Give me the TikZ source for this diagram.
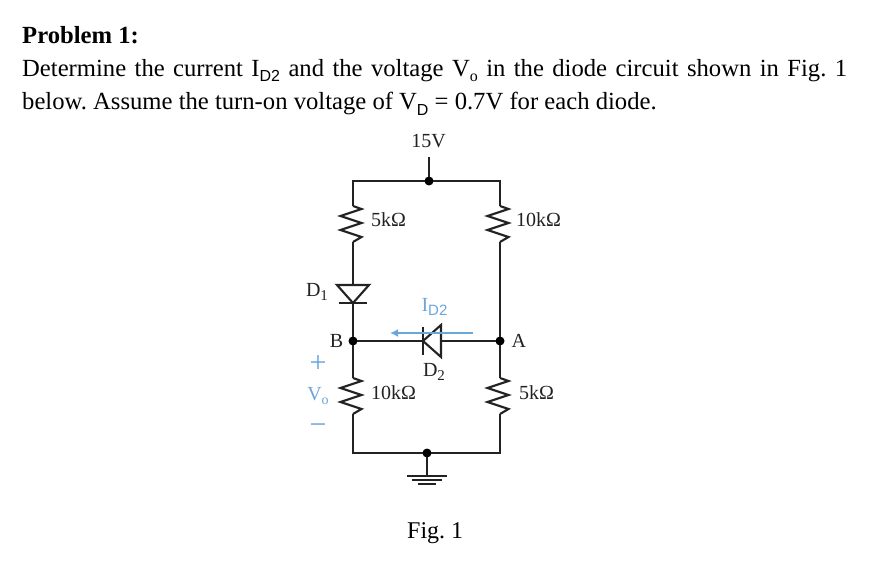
\documentclass[tikz,border=0pt]{standalone}
\usepackage{fontspec}
\setmainfont{Liberation Serif}
\newfontfamily\subfont{Liberation Sans}
\usepackage{xcolor}
\usepackage{tikz}
\usetikzlibrary{positioning, arrows.meta}
\definecolor{noteblue}{HTML}{6AA5DC}
\definecolor{inkgray}{HTML}{222222}
\newcommand{\lowsf}[2]{\raisebox{-0.22em}{\fontsize{#1}{#1}\subfont #2}}
\newcommand{\lowrm}[2]{\raisebox{-0.22em}{\fontsize{#1}{#1}\selectfont #2}}

\begin{document}
\frenchspacing
\begin{tikzpicture}[x=1pt, y=-1pt, every node/.style={inner sep=0pt}]
    % styles
    \tikzstyle{wire} = [line width=2.1pt, draw=inkgray]
    \tikzstyle{dot} = [circle, fill=black, minimum size=9pt, outer sep=-0.5pt]
    \tikzstyle{lbl} = [font=\fontsize{20}{24}\selectfont, text=inkgray]
    \tikzstyle{note} = [font=\fontsize{20}{24}\selectfont, text=noteblue]
    \tikzstyle{body} = [font=\fontsize{24.65}{30}\selectfont, anchor=base west]
    \tikzset{
        resistor/.pic={
            \coordinate (-a) at (0,0);
            \coordinate (-b) at (0,36);
            \draw [wire] (-a) -- (8.5,3) -- (-12.5,10) -- (8.5,17) -- (-12.5,24) -- (8.5,31) -- (-b);
        },
        diode/.pic={
            \coordinate (-a) at (0,0);
            \coordinate (-b) at (0,18);
            \draw [wire] (-16,0) -- (16,0) -- (-b) -- cycle;
            \draw [wire] (-14,18) -- (14,18);
        }
    }
    \useasboundingbox (0,0) rectangle (869,561);

    % text
    \node (title) [body] at (22,43.5) {\textbf{Problem 1:}};
    \node (lineone) [body] at (22,76.5) {\makebox[825pt][s]{Determine the current I\lowsf{16}{D2} and the voltage V\lowrm{16}{o} in the diode circuit shown in Fig. 1}};
    \node (linetwo) [body] at (22,110) {below. Assume the turn-on voltage of V\lowsf{16}{D} = 0.7V for each diode.};
    \node (figname) [body, font=\fontsize{24}{28}\selectfont] at (407,538) {Fig. 1};

    % junctions
    \node (jtop) [dot] at (429,181) {};
    \node (jb) [dot] at (353,341) {};
    \node (ja) [dot] at (500,341) {};
    \node (jgnd) [dot] at (427,453) {};
    \coordinate (vin) at (429,157);
    \coordinate (gnd) at (427,476);

    % parts
    \pic (rone) at (353,206) {resistor};
    \pic (rtwo) at (500,206) {resistor};
    \pic (rthree) at (353,378) {resistor};
    \pic (rfour) at (500,378) {resistor};
    \pic (done) at (353,285) {diode};
    \pic [rotate=-90] (dtwo) at (441,341) {diode};

    % wiring
    \draw [wire] (vin) -- (jtop);
    \draw [wire] (jtop) -| (rone-a);
    \draw [wire] (jtop) -| (rtwo-a);
    \draw [wire] (rone-b) -- (done-a);
    \draw [wire] (done-b) -- (jb);
    \draw [wire] (rtwo-b) -- (ja);
    \draw [wire] (jb) -- (dtwo-b);
    \draw [wire] (dtwo-a) -- (ja);
    \draw [wire] (jb) -- (rthree-a);
    \draw [wire] (ja) -- (rfour-a);
    \draw [wire] (rthree-b) |- (jgnd);
    \draw [wire] (rfour-b) |- (jgnd);
    \draw [wire] (jgnd) -- (gnd);
    \draw [wire] (407,476) -- (447,476);
    \draw [wire] (412,480) -- (442,480);
    \draw [wire] (418,484) -- (436,484);

    % current arrow
    \coordinate (arrstart) at (473,333);
    \coordinate (arrend) at (390,333);
    \draw [line width=2pt, draw=noteblue, -{Latex[length=8pt, width=8pt]}] (arrstart) -- (arrend);

    % labels
    \node (vlabel) [lbl] at (428.5,141) {15V};
    \node (rlabelone) [lbl, anchor=west] at (371,220) {5kΩ};
    \node (rlabeltwo) [lbl, anchor=west] at (516,220) {10kΩ};
    \node (rlabelthree) [lbl, anchor=west] at (371,393) {10kΩ};
    \node (rlabelfour) [lbl, anchor=west] at (519,393) {5kΩ};
    \node (dlabelone) [lbl] at (317,292) {D\lowrm{15}{1}};
    \node (dlabeltwo) [lbl] at (434,372) {D\lowrm{15}{2}};
    \node (blabel) [lbl, left=5.5pt of jb] {B};
    \node (alabel) [lbl, right=7.5pt of ja] {A};
    \node (ilabel) [note] at (434.5,307) {I\lowsf{15}{D2}};
    \node (plus) [note, font=\fontsize{30}{30}\selectfont] at (318,364) {+};
    \node (vout) [note] at (318,396) {V\lowrm{14}{o}};
    \node (minus) [note, font=\fontsize{30}{30}\selectfont] at (318,429) {−};
\end{tikzpicture}
\end{document}
